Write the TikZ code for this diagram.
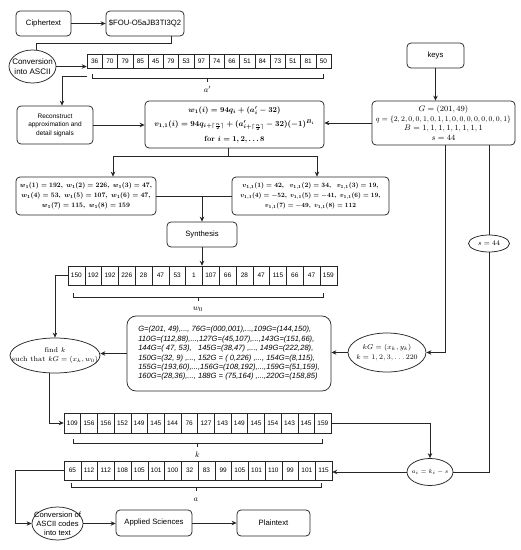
\documentclass[tikz,border=0pt]{standalone}
\usepackage{fontspec}
\usepackage{graphicx}
\newfontfamily\af{Liberation Sans}
\usetikzlibrary{shapes.geometric,arrows.meta,calc}
\newcommand\cellrow[6]{\foreach \v [count=\i] in {#6} {\node[cell,minimum width=#4pt,minimum height=#5pt] (#1\i) at ({#2+(\i-0.5)*#4},#3) {\v};}}
\newcommand\brcline[3]{\draw[brc] (#1,#3-4) -- (#1,#3) -- (#2,#3) -- (#2,#3-4); \draw[brc] ({(#1+#2)/2},#3) -- ({(#1+#2)/2},#3+4);}
\newcommand\fitw[2]{\resizebox{#1pt}{!}{#2}}
\begin{document}
\begin{tikzpicture}[x=1pt,y=-1pt,
  ln/.style={draw=black!85,line width=0.75pt},
  arr/.style={ln,-{Stealth[length=5pt,width=4.5pt]}},
  box/.style={ln,rounded corners=4pt,align=center,inner sep=1pt,font=\af\fontsize{7.7}{9}\selectfont},
  ell/.style={ln,ellipse,inner sep=0pt},
  lbl/.style={align=center,inner sep=0pt},
  cell/.style={draw=black!85,line width=0.5pt,inner sep=0pt,font=\af\fontsize{6.5}{7}\selectfont},
  brc/.style={draw=black!85,line width=1pt},
  mathbox/.style={box,font=\rmfamily\fontsize{10}{10}\selectfont},
]
\useasboundingbox (0,0) rectangle (521,550);
% top row
\node[box,minimum width=55pt,minimum height=25pt] (cipher) at (43.5,23.5) {Ciphertext};
\node[box,minimum width=78pt,minimum height=25pt] (fou) at (145,23.5) {\$FOU-O5aJB3TI3Q2};
\node[ell,minimum width=47pt,minimum height=33pt,label={[lbl,font=\af\fontsize{8}{9.5}\selectfont]center:{Conversion\\into ASCII}}] (conv) at (32.5,66.5) {};
\cellrow{ap}{87}{61}{15.25}{14}{36,70,79,85,45,79,53,97,74,66,51,84,73,51,81,50}
\brcline{92}{323}{78}
\node[font=\fontsize{8}{9}\selectfont] (lap) at (207.5,89) {$a'$};
\node[box,minimum width=57pt,minimum height=25pt] (keys) at (435.5,55.5) {keys};
% second row
\node[box,minimum width=76pt,minimum height=38pt,font=\af\fontsize{6.5}{8.5}\selectfont] (recon) at (55,125) {Reconstruct\\approximation and\\detail signals};
\node[mathbox,minimum width=179pt,minimum height=47pt,font=\rmfamily\bfseries\boldmath\fontsize{10}{11}\selectfont] (form) at (234.5,124.5)
 {\fitw{92}{$w_1(i)=94q_i+(a'_i-32)$}\\[3pt] \fitw{160}{$v_{1,1}(i)=94q_{i+\lceil\frac{n}{2}\rceil}+(a'_{i+\lceil\frac{n}{2}\rceil}-32)(-1)^{B_i}$}\\[4pt] \fitw{60}{for $i=1,2,\ldots 8$}};
\node[mathbox,minimum width=143pt,minimum height=44pt,font=\rmfamily\fontsize{7.7}{9.5}\selectfont] (keyv) at (443.5,123)
 {$G=(201,49)$\\ \fitw{135}{$q=\{2,2,0,0,1,0,1,1,0,0,0,0,0,0,0,1\}$}\\ $B=1,1,1,1,1,1,1,1$\\ $s=44$};
% third row
\node[mathbox,minimum width=140pt,minimum height=38pt,font=\rmfamily\boldmath\fontsize{10}{10}\selectfont] (wbox) at (86,196)
 {\fitw{132}{$w_1(1)=192,\ w_1(2)=226,\ w_1(3)=47,$}\\ \fitw{129}{$w_1(4)=53,\ w_1(5)=107,\ w_1(6)=47,$}\\ \fitw{88}{$w_1(7)=115,\ w_1(8)=159$}};
\node[mathbox,minimum width=157pt,minimum height=38pt,font=\rmfamily\boldmath\fontsize{10}{10}\selectfont] (vbox) at (310.5,196)
 {\fitw{136}{$v_{1,1}(1)=42,\ \ v_{1,1}(2)=34,\ \ v_{1,1}(3)=19,$}\\ \fitw{140}{$v_{1,1}(4)=-52,\ v_{1,1}(5)=-41,\ v_{1,1}(6)=19,$}\\ \fitw{91}{$v_{1,1}(7)=-49,\ v_{1,1}(8)=112$}};
\node[box,minimum width=70pt,minimum height=25pt] (synth) at (202,234.5) {Synthesis};
\node[ell,minimum width=41pt,minimum height=17pt,label={[lbl,font=\fontsize{7}{8}\selectfont]center:{$s=44$}}] (s44) at (489,243.5) {};
% w0
\cellrow{w}{68}{275.5}{16.8}{19}{150,192,192,226,28,47,53,1,107,66,28,47,115,66,47,159}
\brcline{73}{323}{297}
\node[font=\fontsize{8}{9}\selectfont] (lw0) at (198,309) {$w_0$};
% find k row
\node[ell,minimum width=90pt,minimum height=35pt,label={[lbl,font=\fontsize{7.2}{9.5}\selectfont]center:{find $k$\\\fitw{86}{such that $kG=(x_k,w_0)$}}}] (findk) at (55,355.5) {};
\node[box,minimum width=204pt,minimum height=75pt,align=left,rounded corners=9pt,font=\af\itshape\fontsize{7.6}{9.4}\selectfont] (glist) at (229,353.5)
 {G=(201, 49),..., 76G=(000,001),...,109G=(144,150),\\
  110G=(112,88),...,127G=(45,107),...,143G=(151,66),\\
  144G=( 47, 53),\ \ \ 145G=(38,47) ,..., 149G=(222,28),\\
  150G=(32, 9) ,..., 152G = ( 0,226) ,..., 154G=(8,115),\\
  155G=(193,60),...,156G=(108,192),...,159G=(51,159),\\
  160G=(28,36),..., 188G = (75,164) ,...,220G=(158,85)};
\node[ell,minimum width=78pt,minimum height=39pt,label={[lbl,font=\fontsize{7.5}{9.5}\selectfont]center:{$kG=(x_k,y_k)$\\$k=1,2,3,\ldots 220$}}] (kg) at (387,352.5) {};
% k array
\cellrow{k}{64}{423}{16.7}{20}{109,156,156,152,149,145,144,76,127,143,149,145,154,143,145,159}
\brcline{73}{322}{443}
\node[font=\fontsize{8}{9}\selectfont] (lk) at (197.5,455) {$k$};
\node[ell,minimum width=46pt,minimum height=27pt,label={[lbl,font=\fontsize{6.5}{8}\selectfont]center:{$a_i=k_i-s$}}] (ai) at (430,472) {};
% a array
\cellrow{a}{64}{470.5}{16.75}{19}{65,112,112,108,105,101,100,32,83,99,105,101,110,99,101,115}
\brcline{71}{321}{487}
\node[font=\fontsize{8}{9}\selectfont] (la) at (196,500) {$a$};
% bottom row
\node[ell,minimum width=51pt,minimum height=33pt,label={[lbl,font=\af\fontsize{7.6}{9}\selectfont]center:{Conversion of\\ASCII codes\\into text}}] (conv2) at (57.5,523.5) {};
\node[box,minimum width=76pt,minimum height=26pt] (applied) at (154,523) {Applied Sciences};
\node[box,minimum width=73pt,minimum height=26pt] (plain) at (273.5,523) {Plaintext};
% connectors
\draw[arr] (cipher) -- (fou);
\draw[ln] ([xshift=-13pt]fou.south east) -- ++(0,7) -| ([xshift=3.5pt]conv.north);
\draw[arr] (conv.east) -- (conv.east -| ap1.west);
\coordinate (apg) at ($(ap1.west)+(0,15)$);
\draw[arr] (apg) -| ([xshift=7pt]recon.north);
\draw[arr] (recon.east) -- (recon.east -| form.west);
\draw[arr] (keys.south) -- (keys.south |- keyv.north);
\draw[arr] (keyv.west) -- (keyv.west -| form.east);
\draw[ln] ([xshift=-6.5pt]form.south) -- ++(0,8) coordinate (fs);
\draw[arr] (fs) -| ([xshift=27pt]wbox.north);
\draw[arr] (fs) -| ([xshift=6.5pt]vbox.north);
\draw[arr] (wbox.east) -| (synth.north);
\draw[ln] (vbox.west) -- (vbox.west -| synth.north);
\draw[arr] (synth.south) -- (synth.south |- w1.north);
\draw[arr] (w1.west) -| (findk.north);
\draw[arr] (glist.west) -- (glist.west -| findk.east);
\draw[arr] (kg.west) -- (kg.west -| glist.east);
\draw[arr] ([xshift=1.5pt]keyv.south) |- (kg.east);
\draw[ln] ([xshift=45.5pt]keyv.south) -- (s44.north);
\draw[ln] (s44.south) |- (ai.east);
\draw[arr] ([xshift=-6pt]findk.south) |- (k1.west);
\draw[arr] (k16.east) -| (ai.north);
\draw[arr] (ai.west) -- (ai.west -| a16.east);
\draw[arr] (a1.west) -- ++(-48,0) |- (conv2.west);
\draw[arr] (conv2.east) -- (conv2.east -| applied.west);
\draw[arr] (applied) -- (plain);
\end{tikzpicture}
\end{document}
